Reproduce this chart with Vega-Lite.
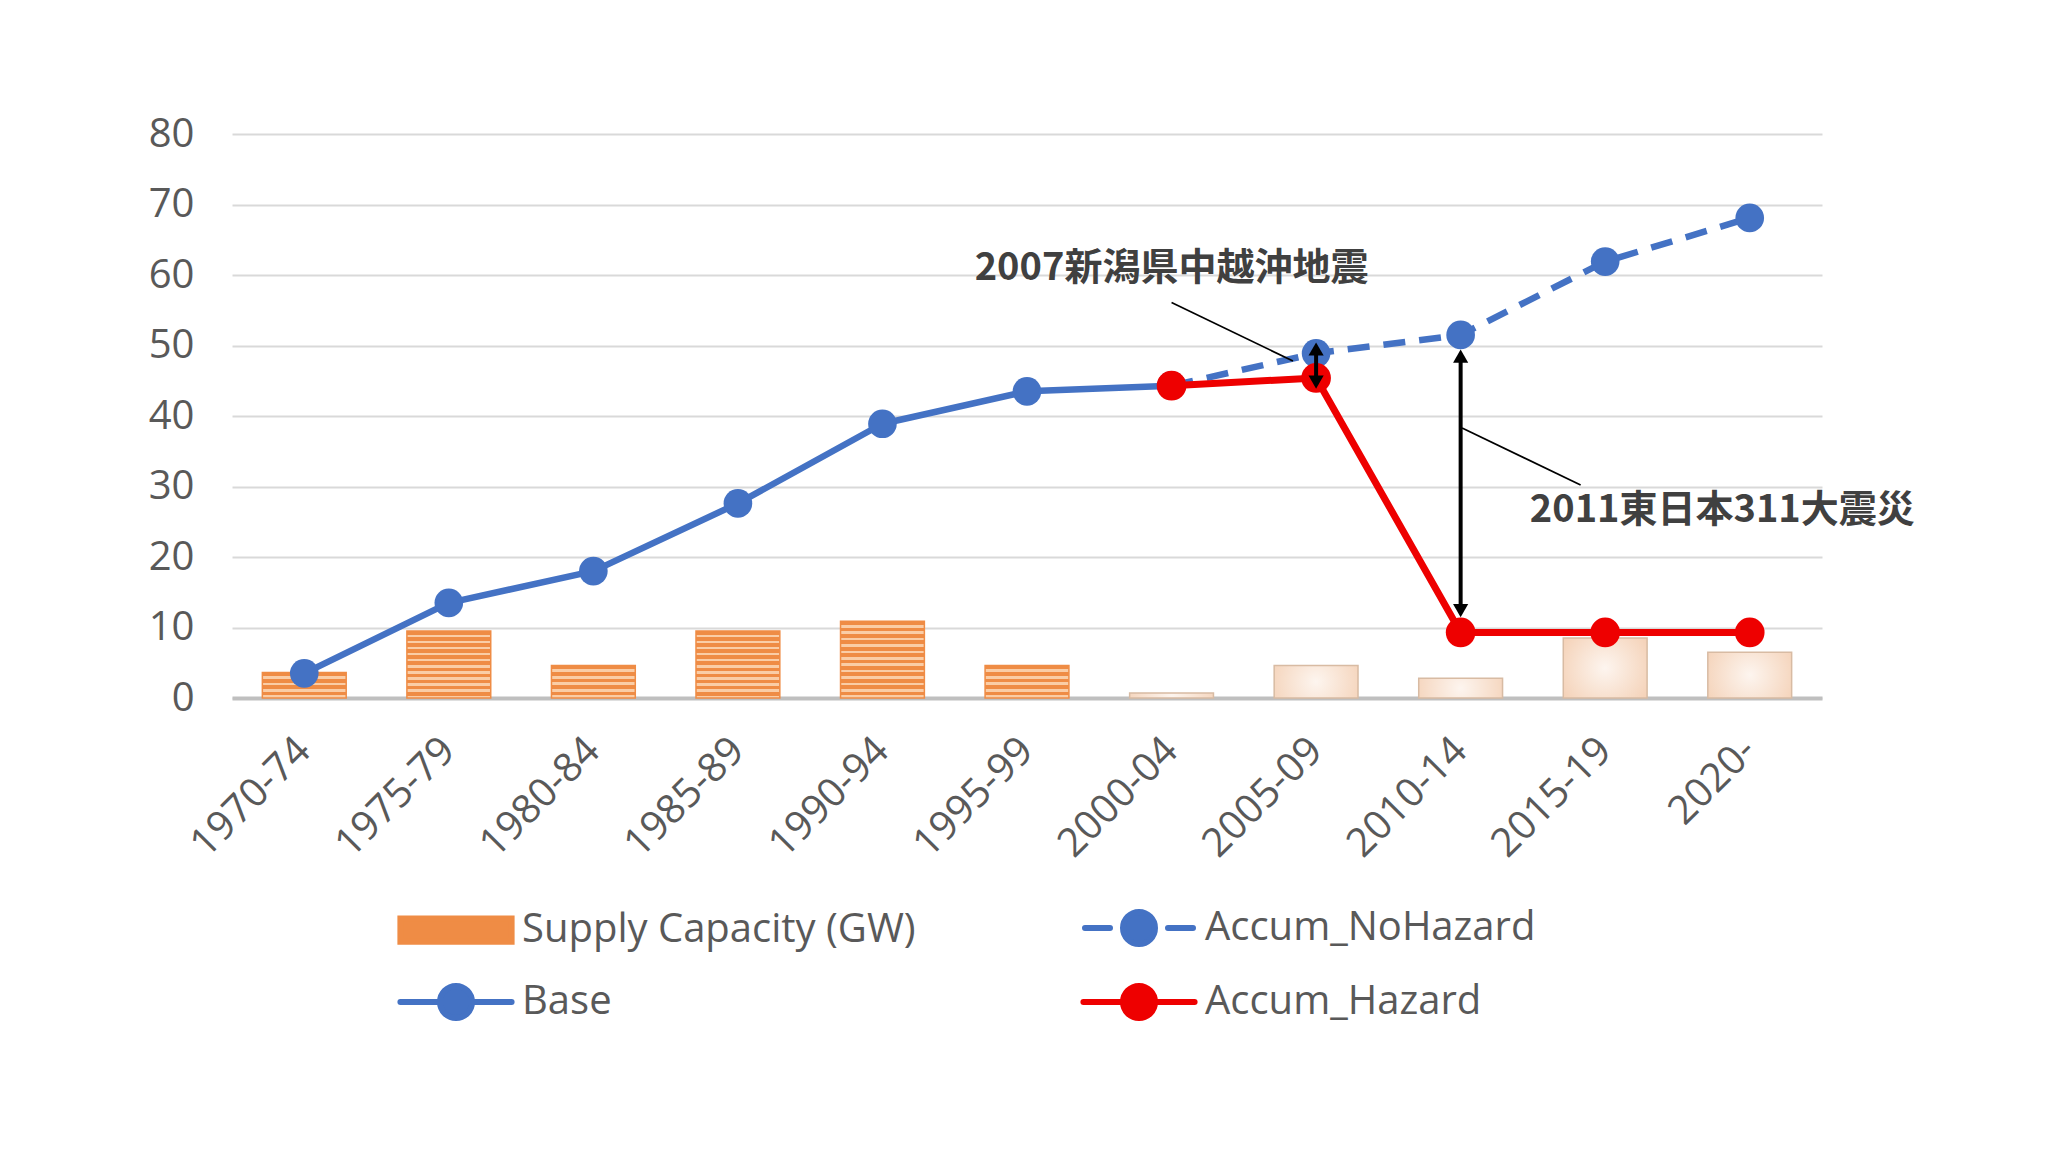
{
  "$schema": "https://vega.github.io/schema/vega-lite/v6.json",
  "width": 1590,
  "height": 564,
  "autosize": {"type": "none"},
  "padding": {"left": 232, "top": 134, "right": 226, "bottom": 454},
  "background": "white",
  "config": {
    "font": "Open Sans",
    "view": {"stroke": null},
    "axisY": {"grid": true, "gridColor": "#D9D9D9", "gridWidth": 2, "domain": false, "ticks": false, "labelFontSize": 40, "labelColor": "#595959", "labelPadding": 38, "tickCount": 8},
    "axisX": {"domain": true, "domainColor": "#BFBFBF", "domainWidth": 4, "ticks": false, "labelFontSize": 40, "labelColor": "#595959", "labelAngle": -45, "labelAlign": "right", "labelBaseline": "middle", "labelPadding": 46, "grid": false, "labelOverlap": false}
  },
  "datasets": {
    "bars": [
      {"period": "1970-74", "cap": 3.6},
      {"period": "1975-79", "cap": 9.5},
      {"period": "1980-84", "cap": 4.6},
      {"period": "1985-89", "cap": 9.5},
      {"period": "1990-94", "cap": 10.9},
      {"period": "1995-99", "cap": 4.6},
      {"period": "2000-04", "cap": 0.7},
      {"period": "2005-09", "cap": 4.6},
      {"period": "2010-14", "cap": 2.8},
      {"period": "2015-19", "cap": 8.5},
      {"period": "2020-", "cap": 6.5}
    ],
    "lines": [
      {"period": "1970-74", "series": "Base", "value": 3.5},
      {"period": "1975-79", "series": "Base", "value": 13.5},
      {"period": "1980-84", "series": "Base", "value": 18.0},
      {"period": "1985-89", "series": "Base", "value": 27.6},
      {"period": "1990-94", "series": "Base", "value": 38.9},
      {"period": "1995-99", "series": "Base", "value": 43.5},
      {"period": "2000-04", "series": "Base", "value": 44.3},
      {"period": "2000-04", "series": "Accum_NoHazard", "value": 44.3},
      {"period": "2005-09", "series": "Accum_NoHazard", "value": 48.9},
      {"period": "2010-14", "series": "Accum_NoHazard", "value": 51.5},
      {"period": "2015-19", "series": "Accum_NoHazard", "value": 61.9},
      {"period": "2020-", "series": "Accum_NoHazard", "value": 68.1},
      {"period": "2000-04", "series": "Accum_Hazard", "value": 44.3},
      {"period": "2005-09", "series": "Accum_Hazard", "value": 45.4},
      {"period": "2010-14", "series": "Accum_Hazard", "value": 9.3},
      {"period": "2015-19", "series": "Accum_Hazard", "value": 9.3},
      {"period": "2020-", "series": "Accum_Hazard", "value": 9.3}
    ],
    "leaders": [
      {"x1": 6.0, "y1": 56.1, "x2": 6.84, "y2": 47.8},
      {"x1": 8.01, "y1": 38.3, "x2": 8.83, "y2": 30.2}
    ],
    "arrows": [
      {"x": 7.0, "top": 49.8, "bottom": 44.5},
      {"x": 8.0, "top": 48.8, "bottom": 12.1}
    ],
    "heads": [
      {"x": 7.0, "y": 49.5, "dir": "up"},
      {"x": 7.0, "y": 44.8, "dir": "down"},
      {"x": 8.0, "y": 48.5, "dir": "up"},
      {"x": 8.0, "y": 12.4, "dir": "down"}
    ],
    "notes": [
      {"x": 6.0, "y": 60.9, "label": "2007新潟県中越沖地震"},
      {"x": 9.81, "y": 26.5, "label": "2011東日本311大震災"}
    ]
  },
  "layer": [
    {
      "encoding": {
        "x": {"field": "period", "type": "nominal", "title": null, "scale": {"paddingInner": 0.42, "paddingOuter": 0.21}}
      },
      "layer": [
        {
          "data": {"name": "bars"},
          "mark": {"type": "bar", "strokeWidth": 1.5},
          "encoding": {
            "y": {"field": "cap", "type": "quantitative", "scale": {"domain": [0, 80]}, "title": null},
            "fill": {
              "condition": [
                {"test": "datum.period >= '2000'", "value": {"gradient": "radial", "x1": 0.5, "y1": 0.5, "r1": 0, "x2": 0.5, "y2": 0.5, "r2": 0.75, "stops": [{"offset": 0, "color": "#FDF5EF"}, {"offset": 1, "color": "#F2C9AA"}]}},
                {"test": "datum.cap >= 10", "value": {"gradient": "linear", "x1": 0, "y1": 0, "x2": 0, "y2": 1, "stops": [
                  {"offset": 0, "color": "#EF8C45"}, {"offset": 0.05, "color": "#EF8C45"}, {"offset": 0.05, "color": "#FACDA6"}, {"offset": 0.0833, "color": "#FACDA6"},
                  {"offset": 0.0833, "color": "#EF8C45"}, {"offset": 0.1333, "color": "#EF8C45"}, {"offset": 0.1333, "color": "#FACDA6"}, {"offset": 0.1667, "color": "#FACDA6"},
                  {"offset": 0.1667, "color": "#EF8C45"}, {"offset": 0.2167, "color": "#EF8C45"}, {"offset": 0.2167, "color": "#FACDA6"}, {"offset": 0.25, "color": "#FACDA6"},
                  {"offset": 0.25, "color": "#EF8C45"}, {"offset": 0.3, "color": "#EF8C45"}, {"offset": 0.3, "color": "#FACDA6"}, {"offset": 0.3333, "color": "#FACDA6"},
                  {"offset": 0.3333, "color": "#EF8C45"}, {"offset": 0.3833, "color": "#EF8C45"}, {"offset": 0.3833, "color": "#FACDA6"}, {"offset": 0.4167, "color": "#FACDA6"},
                  {"offset": 0.4167, "color": "#EF8C45"}, {"offset": 0.4667, "color": "#EF8C45"}, {"offset": 0.4667, "color": "#FACDA6"}, {"offset": 0.5, "color": "#FACDA6"},
                  {"offset": 0.5, "color": "#EF8C45"}, {"offset": 0.55, "color": "#EF8C45"}, {"offset": 0.55, "color": "#FACDA6"}, {"offset": 0.5833, "color": "#FACDA6"},
                  {"offset": 0.5833, "color": "#EF8C45"}, {"offset": 0.6333, "color": "#EF8C45"}, {"offset": 0.6333, "color": "#FACDA6"}, {"offset": 0.6667, "color": "#FACDA6"},
                  {"offset": 0.6667, "color": "#EF8C45"}, {"offset": 0.7167, "color": "#EF8C45"}, {"offset": 0.7167, "color": "#FACDA6"}, {"offset": 0.75, "color": "#FACDA6"},
                  {"offset": 0.75, "color": "#EF8C45"}, {"offset": 0.8, "color": "#EF8C45"}, {"offset": 0.8, "color": "#FACDA6"}, {"offset": 0.8333, "color": "#FACDA6"},
                  {"offset": 0.8333, "color": "#EF8C45"}, {"offset": 0.8833, "color": "#EF8C45"}, {"offset": 0.8833, "color": "#FACDA6"}, {"offset": 0.9167, "color": "#FACDA6"},
                  {"offset": 0.9167, "color": "#EF8C45"}, {"offset": 0.9667, "color": "#EF8C45"}, {"offset": 0.9667, "color": "#FACDA6"}, {"offset": 1, "color": "#FACDA6"}
                ]}},
                {"test": "datum.cap >= 8", "value": {"gradient": "linear", "x1": 0, "y1": 0, "x2": 0, "y2": 1, "stops": [
                  {"offset": 0, "color": "#EF8C45"}, {"offset": 0.0545, "color": "#EF8C45"}, {"offset": 0.0545, "color": "#FACDA6"}, {"offset": 0.0909, "color": "#FACDA6"},
                  {"offset": 0.0909, "color": "#EF8C45"}, {"offset": 0.1455, "color": "#EF8C45"}, {"offset": 0.1455, "color": "#FACDA6"}, {"offset": 0.1818, "color": "#FACDA6"},
                  {"offset": 0.1818, "color": "#EF8C45"}, {"offset": 0.2364, "color": "#EF8C45"}, {"offset": 0.2364, "color": "#FACDA6"}, {"offset": 0.2727, "color": "#FACDA6"},
                  {"offset": 0.2727, "color": "#EF8C45"}, {"offset": 0.3273, "color": "#EF8C45"}, {"offset": 0.3273, "color": "#FACDA6"}, {"offset": 0.3636, "color": "#FACDA6"},
                  {"offset": 0.3636, "color": "#EF8C45"}, {"offset": 0.4182, "color": "#EF8C45"}, {"offset": 0.4182, "color": "#FACDA6"}, {"offset": 0.4545, "color": "#FACDA6"},
                  {"offset": 0.4545, "color": "#EF8C45"}, {"offset": 0.5091, "color": "#EF8C45"}, {"offset": 0.5091, "color": "#FACDA6"}, {"offset": 0.5455, "color": "#FACDA6"},
                  {"offset": 0.5455, "color": "#EF8C45"}, {"offset": 0.6, "color": "#EF8C45"}, {"offset": 0.6, "color": "#FACDA6"}, {"offset": 0.6364, "color": "#FACDA6"},
                  {"offset": 0.6364, "color": "#EF8C45"}, {"offset": 0.6909, "color": "#EF8C45"}, {"offset": 0.6909, "color": "#FACDA6"}, {"offset": 0.7273, "color": "#FACDA6"},
                  {"offset": 0.7273, "color": "#EF8C45"}, {"offset": 0.7818, "color": "#EF8C45"}, {"offset": 0.7818, "color": "#FACDA6"}, {"offset": 0.8182, "color": "#FACDA6"},
                  {"offset": 0.8182, "color": "#EF8C45"}, {"offset": 0.8727, "color": "#EF8C45"}, {"offset": 0.8727, "color": "#FACDA6"}, {"offset": 0.9091, "color": "#FACDA6"},
                  {"offset": 0.9091, "color": "#EF8C45"}, {"offset": 0.9636, "color": "#EF8C45"}, {"offset": 0.9636, "color": "#FACDA6"}, {"offset": 1, "color": "#FACDA6"}
                ]}},
                {"test": "datum.cap >= 4", "value": {"gradient": "linear", "x1": 0, "y1": 0, "x2": 0, "y2": 1, "stops": [
                  {"offset": 0, "color": "#EF8C45"}, {"offset": 0.12, "color": "#EF8C45"}, {"offset": 0.12, "color": "#FACDA6"}, {"offset": 0.2, "color": "#FACDA6"},
                  {"offset": 0.2, "color": "#EF8C45"}, {"offset": 0.32, "color": "#EF8C45"}, {"offset": 0.32, "color": "#FACDA6"}, {"offset": 0.4, "color": "#FACDA6"},
                  {"offset": 0.4, "color": "#EF8C45"}, {"offset": 0.52, "color": "#EF8C45"}, {"offset": 0.52, "color": "#FACDA6"}, {"offset": 0.6, "color": "#FACDA6"},
                  {"offset": 0.6, "color": "#EF8C45"}, {"offset": 0.72, "color": "#EF8C45"}, {"offset": 0.72, "color": "#FACDA6"}, {"offset": 0.8, "color": "#FACDA6"},
                  {"offset": 0.8, "color": "#EF8C45"}, {"offset": 0.92, "color": "#EF8C45"}, {"offset": 0.92, "color": "#FACDA6"}, {"offset": 1, "color": "#FACDA6"}
                ]}}
              ],
              "value": {"gradient": "linear", "x1": 0, "y1": 0, "x2": 0, "y2": 1, "stops": [
                {"offset": 0, "color": "#EF8C45"}, {"offset": 0.15, "color": "#EF8C45"}, {"offset": 0.15, "color": "#FACDA6"}, {"offset": 0.25, "color": "#FACDA6"},
                {"offset": 0.25, "color": "#EF8C45"}, {"offset": 0.4, "color": "#EF8C45"}, {"offset": 0.4, "color": "#FACDA6"}, {"offset": 0.5, "color": "#FACDA6"},
                {"offset": 0.5, "color": "#EF8C45"}, {"offset": 0.65, "color": "#EF8C45"}, {"offset": 0.65, "color": "#FACDA6"}, {"offset": 0.75, "color": "#FACDA6"},
                {"offset": 0.75, "color": "#EF8C45"}, {"offset": 0.9, "color": "#EF8C45"}, {"offset": 0.9, "color": "#FACDA6"}, {"offset": 1, "color": "#FACDA6"}
              ]}
            },
            "stroke": {"condition": {"test": "datum.period >= '2000'", "value": "#D8BBA3"}, "value": "#EF8C45"}
          }
        },
        {
          "data": {"name": "lines"},
          "transform": [{"filter": "datum.series === 'Accum_NoHazard'"}],
          "mark": {"type": "line", "strokeWidth": 6.5, "strokeDash": [22, 14]},
          "encoding": {
            "y": {"field": "value", "type": "quantitative", "scale": {"domain": [0, 80]}, "title": null},
            "color": {
              "field": "series", "type": "nominal",
              "scale": {"domain": ["Supply Capacity (GW)", "Base", "Accum_NoHazard", "Accum_Hazard"], "range": ["#EF8C45", "#4472C4", "#4472C4", "#EE0000"]},
              "legend": {
                "orient": "none", "legendX": 201, "legendY": 771, "columns": 2, "columnPadding": 155, "rowPadding": 18,
                "title": null, "symbolSize": 1600, "symbolStrokeWidth": 6, "labelOffset": 43, "labelFontSize": 40, "labelLimit": 800,
                "labelColor": "#595959", "labelFont": "Open Sans", "padding": 0,
                "encode": {
                  "symbols": {
                    "update": {
                      "shape": {"signal": "datum.value === 'Supply Capacity (GW)' ? 'M-2.78,-0.58H2.78V0.58H-2.78Z' : datum.value === 'Accum_NoHazard' ? 'M-2.7,0H-1.45M1.45,0H2.7M0.8,0A0.8,0.8,0,1,1,-0.8,0A0.8,0.8,0,1,1,0.8,0Z' : 'M-2.78,0H2.78M0.8,0A0.8,0.8,0,1,1,-0.8,0A0.8,0.8,0,1,1,0.8,0Z'"},
                      "fill": [
                        {"test": "datum.value === 'Supply Capacity (GW)'", "value": {"gradient": "linear", "x1": 0, "y1": 0, "x2": 0, "y2": 1, "stops": [
                          {"offset": 0, "color": "#EF8C45"}, {"offset": 0.2, "color": "#EF8C45"}, {"offset": 0.2, "color": "#FACDA6"}, {"offset": 0.4, "color": "#FACDA6"},
                          {"offset": 0.4, "color": "#EF8C45"}, {"offset": 0.6, "color": "#EF8C45"}, {"offset": 0.6, "color": "#FACDA6"}, {"offset": 0.8, "color": "#FACDA6"},
                          {"offset": 0.8, "color": "#EF8C45"}, {"offset": 1, "color": "#EF8C45"}
                        ]}},
                        {"signal": "scale('color', datum.value)"}
                      ],
                      "stroke": {"signal": "datum.value === 'Supply Capacity (GW)' ? 'transparent' : scale('color', datum.value)"},
                      "strokeWidth": {"value": 6},
                      "strokeCap": {"value": "round"},
                      "opacity": {"value": 1},
                      "fillOpacity": {"value": 1},
                      "strokeOpacity": {"value": 1}
                    }
                  }
                }
              }
            }
          }
        },
        {
          "data": {"name": "lines"},
          "transform": [{"filter": "datum.series === 'Base'"}],
          "mark": {"type": "line", "strokeWidth": 6.5, "strokeJoin": "round"},
          "encoding": {
            "y": {"field": "value", "type": "quantitative", "scale": {"domain": [0, 80]}, "title": null},
            "color": {"field": "series", "type": "nominal"}
          }
        },
        {
          "data": {"name": "lines"},
          "transform": [{"filter": "datum.series === 'Accum_Hazard'"}],
          "mark": {"type": "line", "strokeWidth": 7, "strokeJoin": "round"},
          "encoding": {
            "y": {"field": "value", "type": "quantitative", "scale": {"domain": [0, 80]}, "title": null},
            "color": {"field": "series", "type": "nominal"}
          }
        },
        {
          "data": {"name": "lines"},
          "transform": [{"filter": "datum.series !== 'Accum_Hazard'"}],
          "mark": {"type": "point", "filled": true, "size": 820, "opacity": 1},
          "encoding": {
            "y": {"field": "value", "type": "quantitative", "scale": {"domain": [0, 80]}, "title": null},
            "color": {"field": "series", "type": "nominal"}
          }
        },
        {
          "data": {"name": "lines"},
          "transform": [{"filter": "datum.series === 'Accum_Hazard'"}],
          "mark": {"type": "point", "filled": true, "size": 880, "opacity": 1},
          "encoding": {
            "y": {"field": "value", "type": "quantitative", "scale": {"domain": [0, 80]}, "title": null},
            "color": {"field": "series", "type": "nominal"}
          }
        }
      ]
    },
    {
      "layer": [
        {
          "data": {"name": "leaders"},
          "mark": {"type": "rule", "color": "black", "strokeWidth": 1.7},
          "encoding": {
            "x": {"field": "x1", "type": "quantitative", "scale": {"domain": [-0.5, 10.5], "nice": false, "zero": false}, "axis": null},
            "x2": {"field": "x2"},
            "y": {"field": "y1", "type": "quantitative", "scale": {"domain": [0, 80]}, "title": null},
            "y2": {"field": "y2"}
          }
        },
        {
          "data": {"name": "arrows"},
          "mark": {"type": "rule", "color": "black", "strokeWidth": 4},
          "encoding": {
            "x": {"field": "x", "type": "quantitative", "scale": {"domain": [-0.5, 10.5], "nice": false, "zero": false}, "axis": null},
            "y": {"field": "top", "type": "quantitative", "scale": {"domain": [0, 80]}, "title": null},
            "y2": {"field": "bottom"}
          }
        },
        {
          "data": {"name": "heads"},
          "mark": {"type": "point", "filled": true, "color": "black", "size": 230, "opacity": 1},
          "encoding": {
            "x": {"field": "x", "type": "quantitative", "scale": {"domain": [-0.5, 10.5], "nice": false, "zero": false}, "axis": null},
            "y": {"field": "y", "type": "quantitative", "scale": {"domain": [0, 80]}, "title": null},
            "shape": {"field": "dir", "type": "nominal", "scale": {"domain": ["up", "down"], "range": ["triangle-up", "triangle-down"]}, "legend": null}
          }
        },
        {
          "data": {"name": "notes"},
          "mark": {"type": "text", "font": "Noto Sans CJK JP", "fontWeight": "bold", "fontSize": 38, "color": "#404040", "align": "center", "baseline": "middle"},
          "encoding": {
            "x": {"field": "x", "type": "quantitative", "scale": {"domain": [-0.5, 10.5], "nice": false, "zero": false}, "axis": null},
            "y": {"field": "y", "type": "quantitative", "scale": {"domain": [0, 80]}, "title": null},
            "text": {"field": "label"}
          }
        }
      ]
    }
  ],
  "resolve": {"scale": {"x": "independent"}}
}
